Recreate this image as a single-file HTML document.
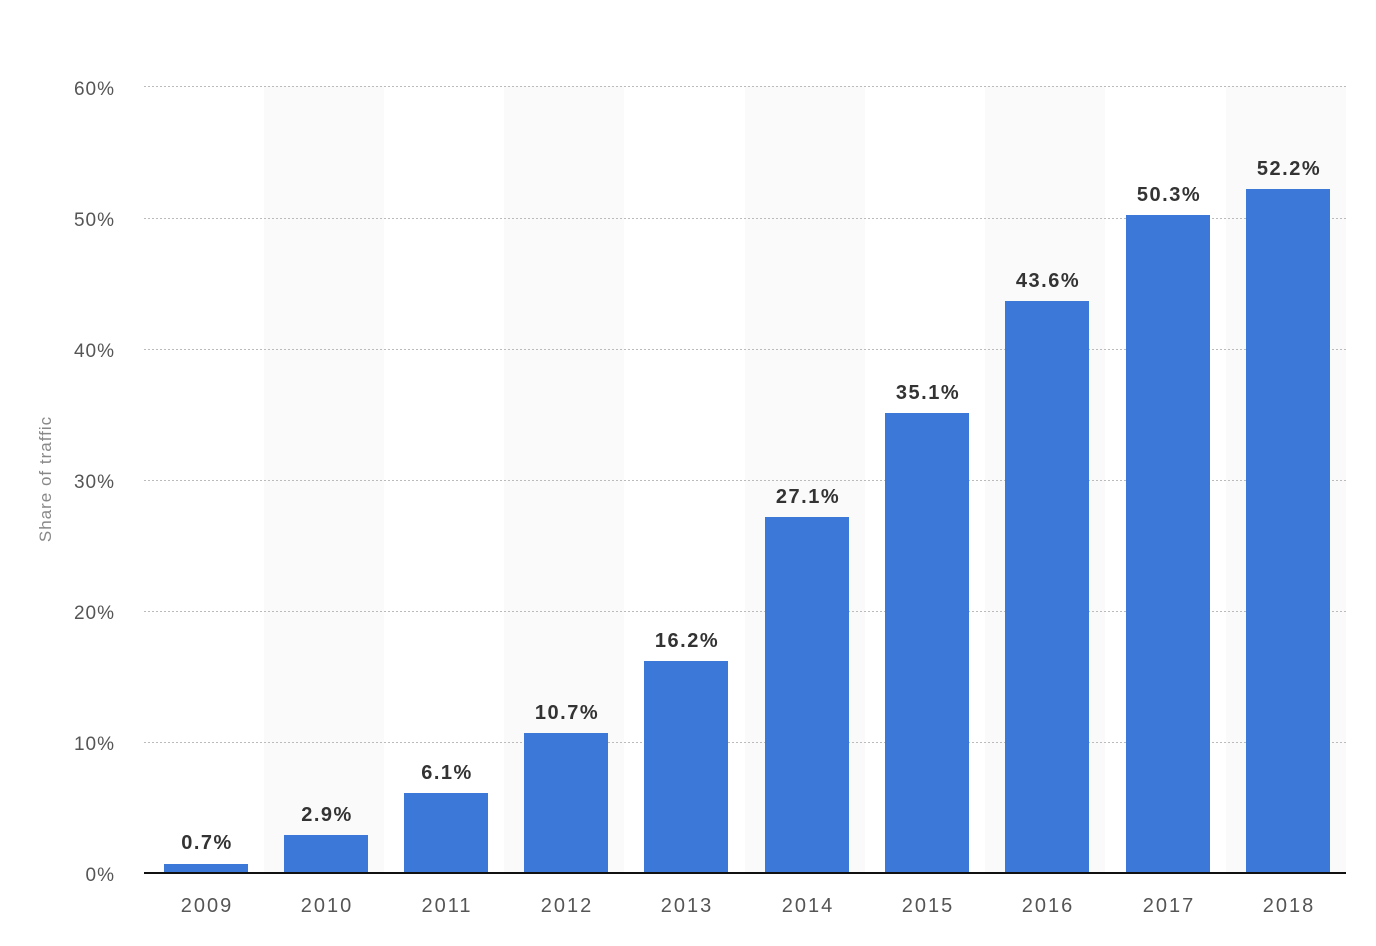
<!DOCTYPE html>
<html><head><meta charset="utf-8"><style>body{margin:0;background:#fff}svg{display:block}</style></head>
<body>
<svg width="1376" height="946" xmlns="http://www.w3.org/2000/svg" font-family="Liberation Sans, DejaVu Sans, sans-serif">
<g fill="#fafafa">
<rect x="264" y="86" width="120" height="787"/>
<rect x="504" y="86" width="120" height="787"/>
<rect x="745" y="86" width="120" height="787"/>
<rect x="985" y="86" width="120" height="787"/>
<rect x="1226" y="86" width="120" height="787"/>
</g>
<g stroke="#bbb" stroke-width="1" stroke-dasharray="2,2">
<line x1="144" x2="1346" y1="86.5" y2="86.5"/>
<line x1="144" x2="1346" y1="218.5" y2="218.5"/>
<line x1="144" x2="1346" y1="349.5" y2="349.5"/>
<line x1="144" x2="1346" y1="480.5" y2="480.5"/>
<line x1="144" x2="1346" y1="611.5" y2="611.5"/>
<line x1="144" x2="1346" y1="742.5" y2="742.5"/>
</g>
<g fill="#555" font-size="19" text-anchor="end" letter-spacing="1">
<text x="115" y="95">60%</text>
<text x="115" y="226">50%</text>
<text x="115" y="357">40%</text>
<text x="115" y="488">30%</text>
<text x="115" y="619">20%</text>
<text x="115" y="750">10%</text>
<text x="115" y="881">0%</text>
</g>
<text transform="translate(51,479) rotate(-90)" text-anchor="middle" fill="#888" font-size="17" letter-spacing="1">Share of traffic</text>
<g fill="#3c78d8">
<rect x="164" y="864" width="84" height="9"/>
<rect x="284" y="835" width="84" height="38"/>
<rect x="404" y="793" width="84" height="80"/>
<rect x="524" y="733" width="84" height="140"/>
<rect x="644" y="661" width="84" height="212"/>
<rect x="765" y="517" width="84" height="356"/>
<rect x="885" y="413" width="84" height="460"/>
<rect x="1005" y="301" width="84" height="572"/>
<rect x="1126" y="215" width="84" height="658"/>
<rect x="1246" y="189" width="84" height="684"/>
</g>
<line x1="144" x2="1346" y1="873" y2="873" stroke="#111" stroke-width="2"/>
<g fill="#333" font-size="20" font-weight="bold" text-anchor="middle" letter-spacing="1.5">
<text x="207" y="849">0.7%</text>
<text x="327" y="821">2.9%</text>
<text x="447" y="779">6.1%</text>
<text x="567" y="719">10.7%</text>
<text x="687" y="647">16.2%</text>
<text x="808" y="503">27.1%</text>
<text x="928" y="399">35.1%</text>
<text x="1048" y="287">43.6%</text>
<text x="1169" y="201">50.3%</text>
<text x="1289" y="175">52.2%</text>
</g>
<g fill="#555" font-size="20" text-anchor="middle" letter-spacing="2">
<text x="207" y="912">2009</text>
<text x="327" y="912">2010</text>
<text x="447" y="912">2011</text>
<text x="567" y="912">2012</text>
<text x="687" y="912">2013</text>
<text x="808" y="912">2014</text>
<text x="928" y="912">2015</text>
<text x="1048" y="912">2016</text>
<text x="1169" y="912">2017</text>
<text x="1289" y="912">2018</text>
</g>
</svg>
</body></html>
